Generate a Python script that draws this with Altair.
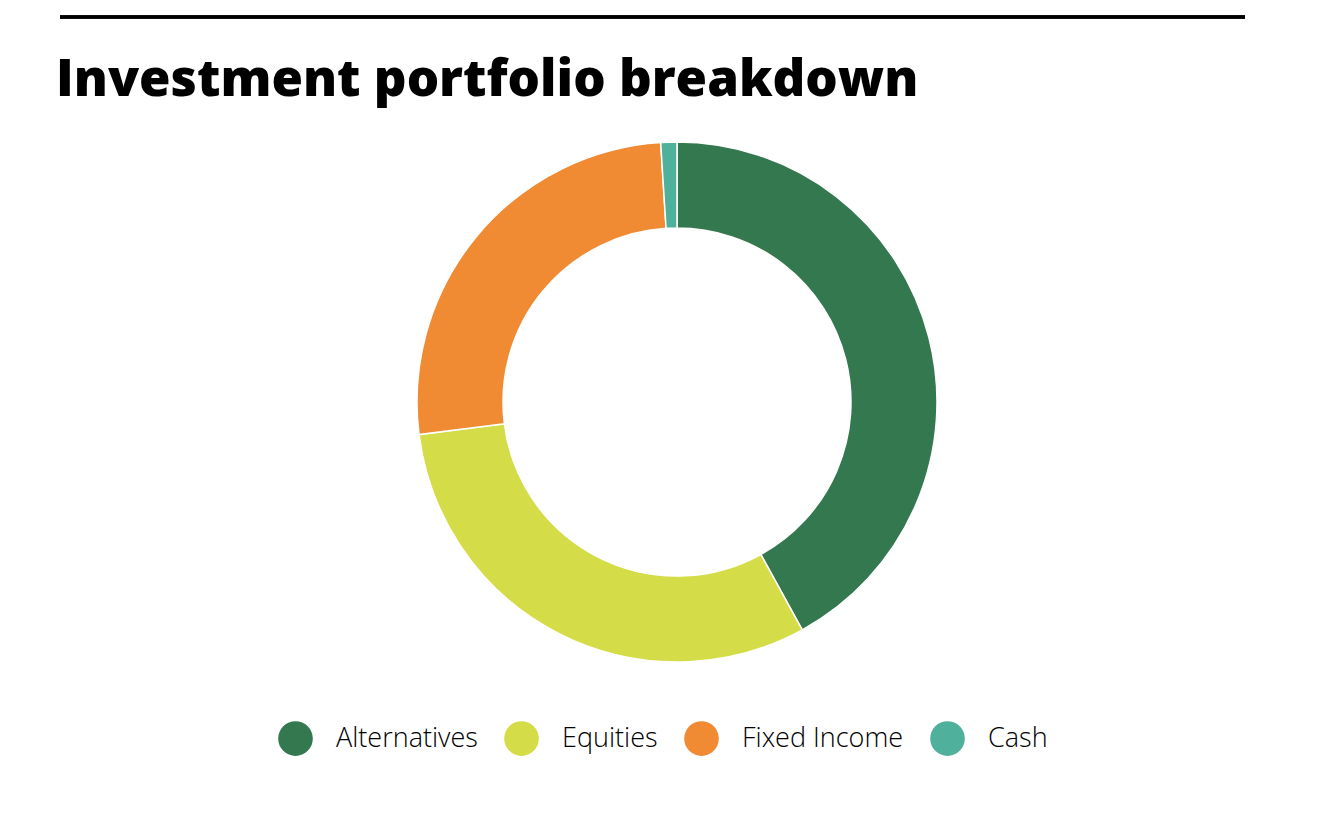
import altair as alt
import pandas as pd

categories = ["Alternatives", "Equities", "Fixed Income", "Cash"]
values = [42, 31, 26, 1]
colors = ["#347850", "#d4dc48", "#f08a33", "#4fb09b"]
order = [0, 1, 2, 3]

df = pd.DataFrame({"category": categories, "value": values, "order": order})

title_text = "Investment portfolio breakdown"

arc = alt.Chart(df).mark_arc(
    outerRadius=260, innerRadius=174, stroke="white", strokeWidth=1.5
).encode(
    theta=alt.Theta("value:Q", stack=True),
    order=alt.Order("order:Q"),
    x=alt.value(669),
    y=alt.value(394),
    color=alt.Color(
        "category:N",
        scale=alt.Scale(domain=categories, range=colors),
        legend=alt.Legend(
            title=None,
            orient="none",
            direction="horizontal",
            legendX=270,
            legendY=713,
            symbolType="circle",
            symbolSize=1200,
            symbolStrokeWidth=0,
            labelFontSize=27,
            labelFont="Open Sans",
            labelFontWeight=300,
            labelColor="#000000",
            labelOffset=23,
            columnPadding=26,
            labelLimit=400,
        ),
    ),
)

rule = alt.Chart(df).mark_rule(color="black", strokeWidth=3).encode(
    x=alt.value(52), x2=alt.value(1237), y=alt.value(9)
)

title_df = pd.DataFrame({"t": [title_text]})
title = alt.Chart(title_df).mark_text(
    align="left", baseline="alphabetic", font="Open Sans", fontWeight=800,
    fontSize=51, color="black"
).encode(text="t:N", x=alt.value(48), y=alt.value(88))

chart = alt.layer(rule, title, arc).properties(
    width=1312, height=800, autosize=alt.AutoSizeParams(type="none"), padding=0
).configure_view(stroke=None)

chart.save("out.html", embed_options={"renderer": "svg", "actions": False})
